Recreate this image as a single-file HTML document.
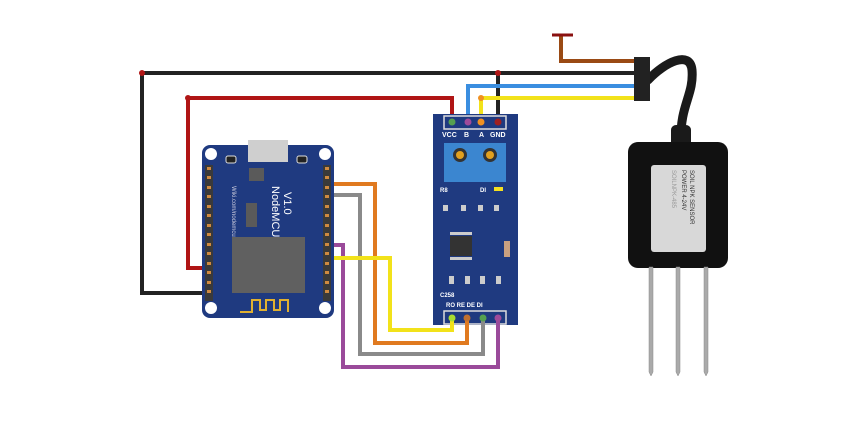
<!DOCTYPE html>
<html><head><style>html,body{margin:0;padding:0;background:#fff}svg{display:block}</style></head>
<body>
<svg width="864" height="422" viewBox="0 0 864 422" xmlns="http://www.w3.org/2000/svg" font-family="Liberation Sans, sans-serif">
<rect width="864" height="422" fill="#fff"/>
<!-- sensor cable -->
<path d="M648,80 C665,62 690,50 692,70 C694,95 680,105 681,140" fill="none" stroke="#1a1a1a" stroke-width="9" stroke-linecap="round"/>
<!-- power wires -->
<polyline points="203,293 142,293 142,73 634,73" fill="none" stroke="#222" stroke-width="4"/>
<polyline points="498,73 498,122" fill="none" stroke="#222" stroke-width="4"/>
<polyline points="203,268 188,268 188,98 452,98 452,122" fill="none" stroke="#b01515" stroke-width="4"/>
<polyline points="468,122 468,86 634,86" fill="none" stroke="#3a8ee0" stroke-width="4"/>
<polyline points="481,122 481,98 634,98" fill="none" stroke="#f2e21a" stroke-width="4"/>
<polyline points="634,61 561,61 561,35" fill="none" stroke="#9a4a14" stroke-width="4"/>
<line x1="552" y1="35" x2="573" y2="35" stroke="#8a1010" stroke-width="3"/>
<circle cx="142" cy="73" r="3" fill="#b01515"/><circle cx="498" cy="73" r="3" fill="#b01515"/>
<circle cx="481" cy="98" r="3" fill="#f09020"/><circle cx="188" cy="98" r="3" fill="#b01515"/>
<!-- connector -->
<rect x="634" y="57" width="16" height="44" fill="#222"/>
<!-- sensor -->
<rect x="671" y="125" width="20" height="22" rx="5" fill="#1a1a1a"/>
<rect x="628" y="142" width="100" height="126" rx="10" fill="#111"/>
<rect x="651" y="165" width="55" height="87" rx="3" fill="#d8d8d8"/>
<g font-size="6" fill="#333" transform="translate(690,170) rotate(90)"><text x="0" y="0">SOIL NPK SENSOR</text><text x="0" y="8">POWER 4-24V</text><text x="0" y="18" fill="#999">SOILNPK-485</text></g>
<g fill="#aaa" stroke="#888" stroke-width="0.5">
<path d="M649,267 h4 v105 l-2,4 l-2,-4z"/><path d="M676,267 h4 v105 l-2,4 l-2,-4z"/><path d="M704,267 h4 v105 l-2,4 l-2,-4z"/></g>
<!-- NodeMCU -->
<rect x="202" y="145" width="132" height="173" rx="8" fill="#1f3a80"/>
<rect x="248" y="140" width="40" height="22" fill="#cfcfcf"/>
<circle cx="211" cy="154" r="6" fill="#fff"/><circle cx="325" cy="154" r="6" fill="#fff"/>
<circle cx="211" cy="308" r="6" fill="#fff"/><circle cx="325" cy="308" r="6" fill="#fff"/>
<rect x="226" y="156" width="10" height="7" rx="2" fill="#222" stroke="#ddd"/><rect x="297" y="156" width="10" height="7" rx="2" fill="#222" stroke="#ddd"/>
<g fill="#c87a30">
<rect x="205" y="165" width="8" height="136" fill="#3a3a3a"/><rect x="323" y="165" width="8" height="136" fill="#3a3a3a"/>
</g>
<g fill="#d08a40">
<rect x="207" y="167" width="4" height="3"/><rect x="207" y="176" width="4" height="3"/><rect x="207" y="186" width="4" height="3"/><rect x="207" y="195" width="4" height="3"/><rect x="207" y="205" width="4" height="3"/><rect x="207" y="214" width="4" height="3"/><rect x="207" y="224" width="4" height="3"/><rect x="207" y="233" width="4" height="3"/><rect x="207" y="243" width="4" height="3"/><rect x="207" y="252" width="4" height="3"/><rect x="207" y="262" width="4" height="3"/><rect x="207" y="271" width="4" height="3"/><rect x="207" y="281" width="4" height="3"/><rect x="207" y="290" width="4" height="3"/>
<rect x="325" y="167" width="4" height="3"/><rect x="325" y="176" width="4" height="3"/><rect x="325" y="186" width="4" height="3"/><rect x="325" y="195" width="4" height="3"/><rect x="325" y="205" width="4" height="3"/><rect x="325" y="214" width="4" height="3"/><rect x="325" y="224" width="4" height="3"/><rect x="325" y="233" width="4" height="3"/><rect x="325" y="243" width="4" height="3"/><rect x="325" y="252" width="4" height="3"/><rect x="325" y="262" width="4" height="3"/><rect x="325" y="271" width="4" height="3"/><rect x="325" y="281" width="4" height="3"/><rect x="325" y="290" width="4" height="3"/>
</g>
<rect x="249" y="168" width="15" height="13" fill="#5a5a5a"/>
<rect x="246" y="203" width="11" height="24" fill="#5a5a5a"/>
<rect x="232" y="237" width="73" height="56" fill="#606060"/>
<path d="M240,312 h12 v-12 h8 v10 h6 v-10 h8 v10 h6 v-10 h8 v12" fill="none" stroke="#e0b030" stroke-width="2"/>
<g transform="translate(272,186) rotate(90)" fill="#fff"><text font-size="11" x="0" y="0">NodeMCU</text><text font-size="11" x="6" y="-12">V1.0</text></g>
<g transform="translate(232,186) rotate(90)" fill="#ccd" font-size="6"><text>Wiki.com/nodemcu</text></g>
<!-- RS485 module -->
<rect x="433" y="114" width="85" height="211" fill="#1f3a80"/>
<rect x="444" y="116" width="62" height="13" fill="none" stroke="#ddd" stroke-width="1.5"/>
<circle cx="452" cy="122" r="3.5" fill="#55a050"/><circle cx="468" cy="122" r="3.5" fill="#a04a9a"/><circle cx="481" cy="122" r="3.5" fill="#f09020"/><circle cx="498" cy="122" r="3.5" fill="#a02020"/>
<g font-size="7" font-weight="bold" fill="#fff"><text x="442" y="137">VCC</text><text x="464" y="137">B</text><text x="479" y="137">A</text><text x="490" y="137">GND</text></g>
<rect x="444" y="143" width="62" height="39" fill="#3b86d0"/>
<circle cx="460" cy="155" r="7" fill="#333"/><circle cx="490" cy="155" r="7" fill="#333"/>
<circle cx="460" cy="155" r="4" fill="#e0a020"/><circle cx="490" cy="155" r="4" fill="#e0a020"/>
<rect x="494" y="187" width="9" height="4" fill="#f5e020"/>
<g fill="#ccc"><rect x="443" y="205" width="5" height="6"/><rect x="461" y="205" width="5" height="6"/><rect x="478" y="205" width="5" height="6"/><rect x="494" y="205" width="5" height="6"/>
<rect x="450" y="232" width="22" height="3"/><rect x="450" y="257" width="22" height="3"/>
<rect x="449" y="276" width="5" height="8"/><rect x="465" y="276" width="5" height="8"/><rect x="480" y="276" width="5" height="8"/><rect x="496" y="276" width="5" height="8"/></g>
<rect x="450" y="236" width="22" height="20" fill="#333"/>
<rect x="504" y="241" width="6" height="16" fill="#c9a080"/>
<g font-size="6" fill="#fff" font-weight="bold"><text x="440" y="192">R8</text><text x="480" y="192">DI</text><text x="440" y="297">C258</text><text x="446" y="307">RO RE DE DI</text></g>
<rect x="444" y="311" width="62" height="13" fill="none" stroke="#ddd" stroke-width="1.5"/>
<!-- signal wires -->
<polyline points="334,184 375,184 375,343 467,343 467,318" fill="none" stroke="#e07a20" stroke-width="4"/>
<polyline points="334,195 360,195 360,354 483,354 483,318" fill="none" stroke="#8a8a8a" stroke-width="4"/>
<polyline points="334,245 343,245 343,367 498,367 498,318" fill="none" stroke="#9a4a9a" stroke-width="4"/>
<polyline points="334,258 390,258 390,330 452,330 452,318" fill="none" stroke="#f2e21a" stroke-width="4"/>
<circle cx="452" cy="318" r="3.5" fill="#aadd30"/><circle cx="467" cy="318" r="3.5" fill="#c07030"/><circle cx="483" cy="318" r="3.5" fill="#55a050"/><circle cx="498" cy="318" r="3.5" fill="#a04a9a"/>
</svg>
</body></html>
